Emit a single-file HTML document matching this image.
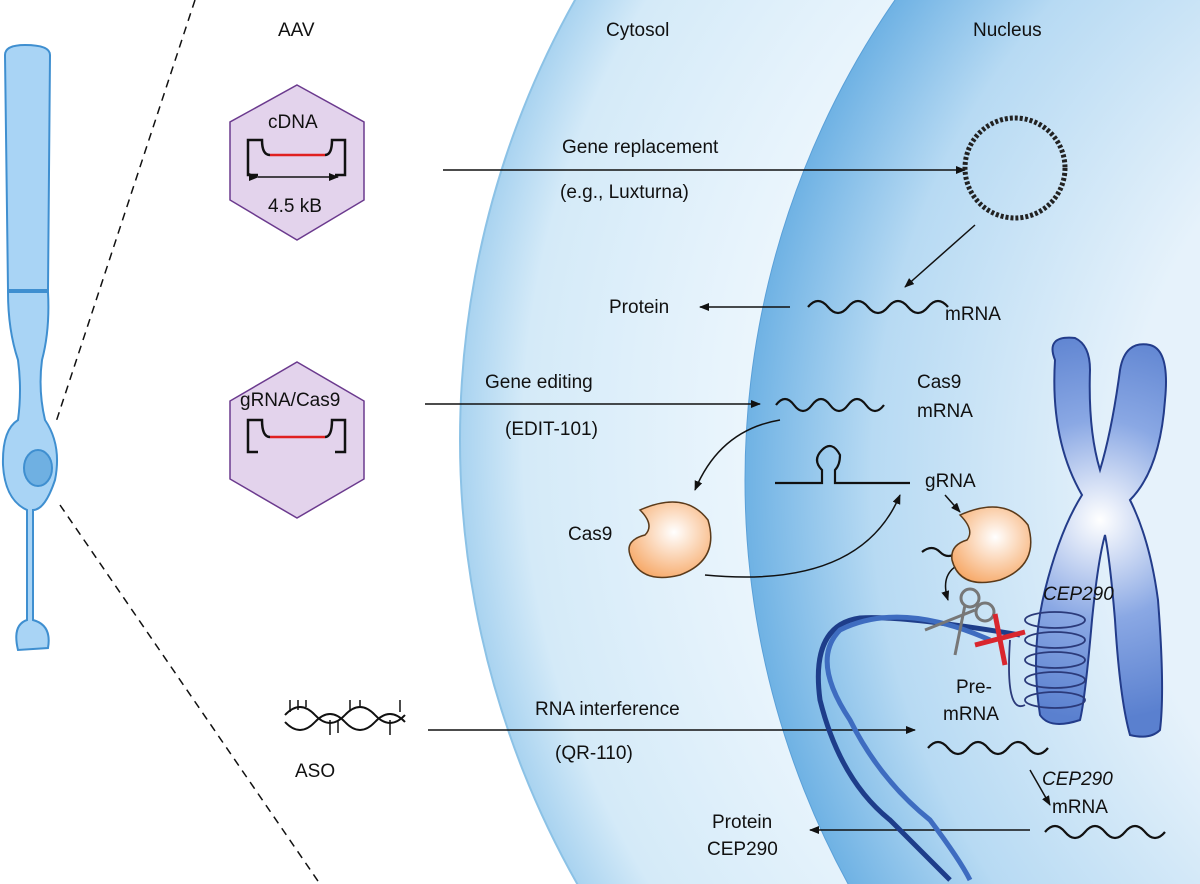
<!DOCTYPE html>
<html><head><style>
html,body{margin:0;padding:0;background:#fff;width:1200px;height:884px;overflow:hidden}
svg{display:block;font-family:"Liberation Sans",sans-serif}
text{font-size:19px;fill:#111}
</style></head><body>
<svg width="1200" height="884" viewBox="0 0 1200 884">
<defs>
<radialGradient id="cy" cx="1359" cy="440" r="899" gradientUnits="userSpaceOnUse">
<stop offset="0.6" stop-color="#f2f9fe"/><stop offset="0.93" stop-color="#d4eaf8"/><stop offset="1" stop-color="#a9d3f0"/></radialGradient>
<radialGradient id="nu" cx="1588" cy="480" r="843" gradientUnits="userSpaceOnUse">
<stop offset="0.55" stop-color="#e6f2fb"/><stop offset="0.85" stop-color="#b7daf3"/><stop offset="1" stop-color="#6fb2e4"/></radialGradient>
<radialGradient id="ch" cx="1100" cy="520" r="200" gradientUnits="userSpaceOnUse">
<stop offset="0" stop-color="#ffffff"/><stop offset="0.5" stop-color="#8aa8e4"/><stop offset="1" stop-color="#5a80cf"/></radialGradient>
<radialGradient id="cas" cx="0.55" cy="0.4" r="0.7"><stop offset="0" stop-color="#fff"/><stop offset="1" stop-color="#f6a35e"/></radialGradient>
<marker id="a" markerWidth="10" markerHeight="8" refX="9" refY="4" orient="auto" markerUnits="userSpaceOnUse"><path d="M0,0L10,4L0,8z" fill="#111"/></marker>
</defs>
<circle cx="1359" cy="440" r="899" fill="url(#cy)" stroke="#8cc2e6" stroke-width="2"/>
<circle cx="1588" cy="480" r="843" fill="url(#nu)" stroke="#5aa0d8" stroke-width="1"/>
<line x1="195" y1="0" x2="55" y2="425" stroke="#111" stroke-dasharray="8,6" stroke-width="1.5"/>
<line x1="60" y1="505" x2="320" y2="884" stroke="#111" stroke-dasharray="8,6" stroke-width="1.5"/>
<g fill="#a9d4f5" stroke="#3f8fd0" stroke-width="2">
<path d="M5,55 Q5,45 25,45 Q50,45 50,55 L48,290 L8,290 Z"/>
<path d="M8,292 L48,292 Q50,330 42,360 Q38,390 45,420 Q62,445 55,480 Q45,510 33,510 L33,620 Q52,625 48,648 L18,650 Q12,625 27,620 L27,510 Q5,500 3,465 Q2,430 18,420 Q22,390 18,360 Q8,330 8,292 Z"/>
<ellipse cx="38" cy="468" rx="14" ry="18" fill="#6fb0e2"/>
</g>
<text x="278" y="36" font-size="18">AAV</text>
<text x="606" y="36">Cytosol</text>
<text x="973" y="36">Nucleus</text>
<g fill="#e3d3ec" stroke="#6b3a8e" stroke-width="1.5">
<polygon points="297,85 364,122 364,200 297,240 230,200 230,122"/>
<polygon points="297,362 364,401 364,479 297,518 230,479 230,401"/>
</g>
<text x="268" y="128">cDNA</text>
<text x="268" y="212">4.5 kB</text>
<text x="240" y="406" font-size="18">gRNA/Cas9</text>
<g fill="none" stroke="#111" stroke-width="2.5">
<path d="M258,175 L248,175 L248,140 L262,140 Q262,155 270,155 M335,175 L345,175 L345,140 L332,140 Q332,155 325,155"/>
<path d="M258,452 L248,452 L248,420 L262,420 Q262,437 270,437 M335,452 L345,452 L345,420 L332,420 Q332,437 325,437"/>
</g>
<line x1="270" y1="155" x2="325" y2="155" stroke="#e02020" stroke-width="2.5"/>
<line x1="270" y1="437" x2="325" y2="437" stroke="#e02020" stroke-width="2.5"/>
<line x1="258" y1="177" x2="338" y2="177" stroke="#111" stroke-width="1.5" marker-end="url(#a)" marker-start="url(#a)"/>
<g stroke="#111" stroke-width="1.5" fill="none">
<line x1="443" y1="170" x2="965" y2="170" marker-end="url(#a)"/>
<line x1="975" y1="225" x2="905" y2="287" marker-end="url(#a)"/>
<line x1="790" y1="307" x2="700" y2="307" marker-end="url(#a)"/>
<line x1="425" y1="404" x2="760" y2="404" marker-end="url(#a)"/>
<path d="M780,420 Q720,430 695,490" marker-end="url(#a)"/>
<path d="M705,575 Q860,590 900,495" marker-end="url(#a)"/>
<line x1="945" y1="495" x2="960" y2="512" marker-end="url(#a)"/>
<path d="M958,565 Q940,575 948,600" marker-end="url(#a)"/>
<line x1="428" y1="730" x2="915" y2="730" marker-end="url(#a)"/>
<line x1="1030" y1="770" x2="1050" y2="805" marker-end="url(#a)"/>
<line x1="1030" y1="830" x2="810" y2="830" marker-end="url(#a)"/>
<path d="M808,307 q10,-12 20,0 t20,0 t20,0 t20,0 t20,0 t20,0 t20,0" stroke-width="2.2"/>
<path d="M776,405 q9,-12 18,0 t18,0 t18,0 t18,0 t18,0 t18,0" stroke-width="2.2"/>
<path d="M928,748 q10,-12 20,0 t20,0 t20,0 t20,0 t20,0 t20,0" stroke-width="2.2"/>
<path d="M1045,832 q10,-12 20,0 t20,0 t20,0 t20,0 t20,0 t20,0" stroke-width="2.2"/>
<path d="M922,552 q10,-8 18,0 t18,0 t15,-5" stroke-width="2.2"/>
<path d="M775,483 L822,483 L822,470 Q812,460 822,450 Q832,440 840,455 Q840,465 835,470 L835,483 L910,483" stroke-width="2.2"/>
<circle cx="1015" cy="168" r="50" stroke="#222" stroke-width="5" stroke-dasharray="3,2"/>
</g>
<path d="M285,715 q15,-16 30,0 t30,0 t30,0 t30,0 M285,722 q15,16 30,0 t30,0 t30,0 t30,0" stroke="#111" stroke-width="2" fill="none"/>
<g stroke="#111" stroke-width="1.5"><line x1="290" y1="700" x2="290" y2="712"/><line x1="298" y1="700" x2="298" y2="710"/><line x1="306" y1="700" x2="306" y2="707"/><line x1="330" y1="720" x2="330" y2="735"/><line x1="338" y1="720" x2="338" y2="733"/><line x1="350" y1="700" x2="350" y2="710"/><line x1="360" y1="700" x2="360" y2="708"/><line x1="390" y1="720" x2="390" y2="735"/><line x1="400" y1="700" x2="400" y2="712"/></g>
<path d="M640,510 Q685,490 708,520 Q720,560 680,575 Q640,585 630,555 Q625,540 645,535 Q655,525 640,510Z" fill="url(#cas)" stroke="#5a3a1a" stroke-width="1.5"/>
<path d="M960,515 Q1005,495 1028,525 Q1040,565 1000,580 Q960,590 952,560 Q950,545 967,540 Q975,530 960,515Z" fill="url(#cas)" stroke="#5a3a1a" stroke-width="1.5"/>
<path d="M1055,360 Q1045,335 1075,338 Q1090,345 1090,370 Q1088,430 1100,470 Q1112,430 1120,370 Q1125,340 1150,345 Q1170,350 1165,400 Q1160,470 1130,500 Q1150,540 1158,600 Q1165,690 1160,730 Q1150,740 1130,735 Q1120,700 1115,620 Q1110,560 1105,535 Q1098,560 1092,620 Q1085,700 1080,720 Q1050,730 1040,715 Q1030,650 1045,590 Q1060,530 1082,495 Q1050,440 1055,360Z" fill="url(#ch)" stroke="#233c8a" stroke-width="2"/>
<g fill="none" stroke="#2b3a7a" stroke-width="1.8">
<ellipse cx="1055" cy="620" rx="30" ry="8"/><ellipse cx="1055" cy="640" rx="30" ry="8"/><ellipse cx="1055" cy="660" rx="30" ry="8"/><ellipse cx="1055" cy="680" rx="30" ry="8"/><ellipse cx="1055" cy="700" rx="30" ry="8"/>
<path d="M1025,705 Q1005,715 1010,640"/>
</g>
<g fill="none" stroke="#1e3d8a" stroke-width="5">
<path d="M1020,635 Q900,615 860,618 Q810,625 820,700 Q840,780 890,820 Q930,860 950,880"/>
<path d="M990,640 Q900,600 840,630 Q810,660 850,720 Q880,780 930,820 Q960,860 970,880" stroke="#3e6cc0"/>
</g>
<g stroke="#777" stroke-width="3" fill="none"><circle cx="970" cy="598" r="9"/><circle cx="985" cy="612" r="9"/><line x1="925" y1="630" x2="975" y2="610"/><line x1="955" y1="655" x2="965" y2="605"/></g>
<g stroke="#d9262e" stroke-width="5"><line x1="995" y1="614" x2="1005" y2="665"/><line x1="975" y1="645" x2="1025" y2="632"/></g>
<text x="562" y="153">Gene replacement</text>
<text x="560" y="198">(e.g., Luxturna)</text>
<text x="609" y="313">Protein</text>
<text x="945" y="320">mRNA</text>
<text x="485" y="388">Gene editing</text>
<text x="505" y="435">(EDIT-101)</text>
<text x="917" y="388">Cas9</text>
<text x="917" y="417">mRNA</text>
<text x="925" y="487">gRNA</text>
<text x="568" y="540">Cas9</text>
<text x="1043" y="600" font-style="italic">CEP290</text>
<text x="535" y="715">RNA interference</text>
<text x="555" y="759">(QR-110)</text>
<text x="295" y="777">ASO</text>
<text x="956" y="693">Pre-</text>
<text x="943" y="720">mRNA</text>
<text x="1042" y="785" font-style="italic">CEP290</text>
<text x="1052" y="813">mRNA</text>
<text x="712" y="828">Protein</text>
<text x="707" y="855">CEP290</text>
</svg>
</body></html>
